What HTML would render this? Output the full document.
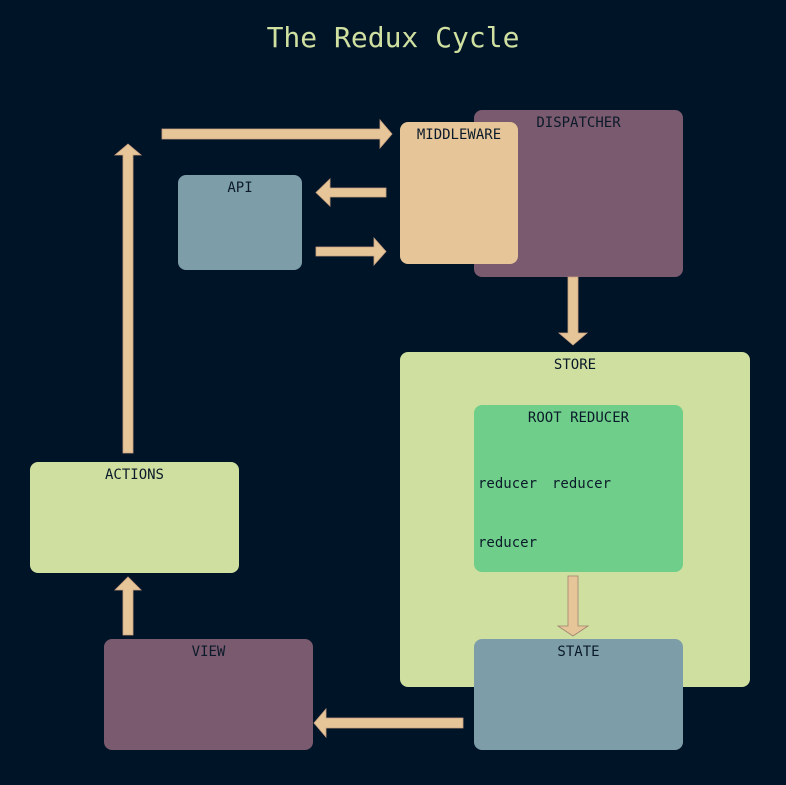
<!DOCTYPE html>
<html><head><style>
body{margin:0;background:#001428;width:786px;height:785px;overflow:hidden;position:relative;font-family:"DejaVu Sans Mono","Liberation Mono",monospace;}
.b{position:absolute;border-radius:8px;font-size:14px;color:#0b1a2a;text-align:center;box-sizing:border-box;padding-top:5px;line-height:16px;}
.t{position:absolute;font-size:14px;color:#0b1a2a;line-height:16px;}
svg{position:absolute;left:0;top:0;}
</style></head><body>
<div style="position:absolute;left:0;width:786px;top:18px;text-align:center;font-size:28px;color:#cfe0a0;line-height:40px;">The Redux Cycle</div>
<div class="b" style="left:474px;top:110px;width:209px;height:167px;background:#7a5a6e;">DISPATCHER</div>
<div class="b" style="left:400px;top:122px;width:118px;height:142px;background:#e6c698;">MIDDLEWARE</div>
<div class="b" style="left:178px;top:175px;width:124px;height:95px;background:#7d9ea8;">API</div>
<div class="b" style="left:400px;top:352px;width:350px;height:335px;background:#cedf9f;">STORE</div>
<div class="b" style="left:474px;top:405px;width:209px;height:167px;background:#6fcf8a;">ROOT REDUCER</div>
<div class="t" style="left:478px;top:476px;">reducer</div>
<div class="t" style="left:552px;top:476px;">reducer</div>
<div class="t" style="left:478px;top:535px;">reducer</div>
<div class="b" style="left:474px;top:639px;width:209px;height:111px;background:#7d9ea8;">STATE</div>
<div class="b" style="left:30px;top:462px;width:209px;height:111px;background:#cedf9f;">ACTIONS</div>
<div class="b" style="left:104px;top:639px;width:209px;height:111px;background:#7a5a6e;">VIEW</div>
<svg width="786" height="785">
<g fill="#e6c698" stroke="#c9a080" stroke-width="0.8">
<polygon points="162,129 380,129 380,120 392,134 380,148 380,139 162,139"/>
<polygon points="123,453 123,155 115,155 128,144 141,155 133,155 133,453"/>
<polygon points="386,188 330,188 330,179 316,192.5 330,206 330,197 386,197"/>
<polygon points="316,247 374,247 374,238 386,251.5 374,265 374,256 316,256"/>
<polygon points="568,277 568,333 559,333 573,345 587,333 578,333 578,277"/>
<polygon points="568,576 568,626 558,626 573,636 588,626 578,626 578,576" stroke="#a08070"/>
<polygon points="463,718 326,718 326,709 314,723 326,737 326,728 463,728"/>
<polygon points="123,635 123,590 115,590 128,577 141,590 133,590 133,635"/>
</g>
</svg>
</body></html>
